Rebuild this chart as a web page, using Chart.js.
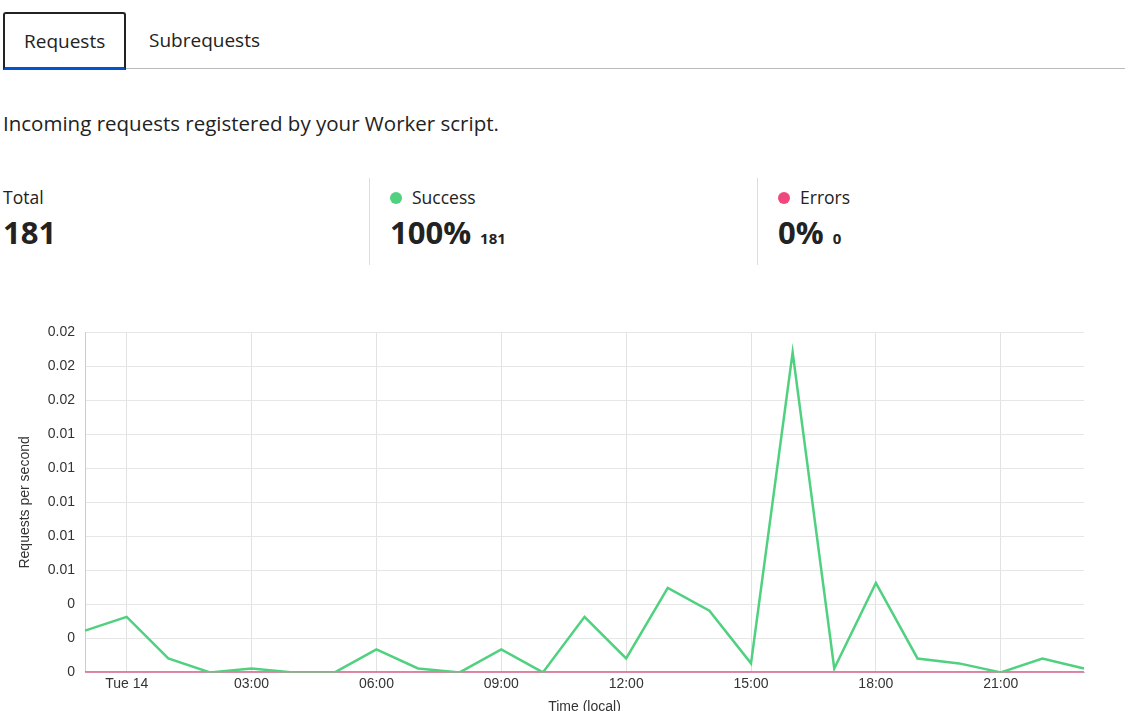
<!DOCTYPE html>
<html>
<head>
<meta charset="utf-8">
<script src="https://cdn.jsdelivr.net/npm/chart.js@4"></script>
<style>
  body { margin: 0; width: 1148px; height: 711px; overflow: hidden; background: #fff; font-family: "Open Sans", "Noto Sans", sans-serif; color: #222; position: relative; }
  .tabs { position: absolute; left: 3px; top: 12px; width: 1122px; height: 56px; border-bottom: 1px solid #bbb; }
  .tab { position: absolute; top: 0; height: 56px; line-height: 56px; font-size: 19px; padding: 0 19px; }
  .tab.active { left: 0; border: 2px solid #222; border-bottom: 3px solid #0055cc; border-radius: 3px 3px 0 0; box-sizing: border-box; height: 58px; line-height: 54px; }
  .desc { position: absolute; left: 3px; top: 109px; font-size: 20.5px; }
  .stat { position: absolute; top: 178px; height: 87px; }
  .stat .lab { font-size: 17.5px; margin-top: 7px; }
  .stat .val { font-size: 31px; font-weight: 700; margin-top: 2px; }
  .stat .val small { font-size: 15px; margin-left: 9px; }
  .dot { display: inline-block; width: 12px; height: 12px; border-radius: 50%; margin-right: 10px; vertical-align: 0; }
  .div { position: absolute; top: 178px; height: 87px; border-left: 1px solid #ddd; }
  #wrap { position: absolute; left: 13px; top: 314px; width: 1074px; height: 406px; }
</style>
</head>
<body>
<div class="tabs">
  <div class="tab active">Requests</div>
  <div class="tab" style="left:127px">Subrequests</div>
</div>
<div class="desc">Incoming requests registered by your Worker script.</div>
<div class="stat" style="left:3px"><div class="lab">Total</div><div class="val">181</div></div>
<div class="div" style="left:369px"></div>
<div class="stat" style="left:390px"><div class="lab"><span class="dot" style="background:#4fd180"></span>Success</div><div class="val">100%<small>181</small></div></div>
<div class="div" style="left:757px"></div>
<div class="stat" style="left:778px"><div class="lab"><span class="dot" style="background:#f0487c"></span>Errors</div><div class="val">0%<small>0</small></div></div>
<div id="wrap"><canvas id="c"></canvas></div>
<script>
const hours = ['23:00', 'Tue 14', '01:00', '02:00', '03:00', '04:00', '05:00', '06:00', '07:00', '08:00', '09:00', '10:00', '11:00',
  '12:00', '13:00', '14:00', '15:00', '16:00', '17:00', '18:00', '19:00', '20:00', '21:00', '22:00', '23:00'];
const success = [0.00246, 0.00327, 0.00082, 0, 0.00023, 0, 0, 0.00135, 0.00023, 0, 0.00135, 0, 0.00327,
  0.00082, 0.00497, 0.00363, 0.00053, 0.01883, 0.00023, 0.00526, 0.00082, 0.00053, 0, 0.00082, 0.00023];
const errors = hours.map(() => 0);

new Chart(document.getElementById('c'), {
  type: 'line',
  data: {
    labels: hours,
    datasets: [{
      label: 'Success', data: success, borderColor: '#4fd180', borderWidth: 2.5, pointRadius: 0, tension: 0,
    }, {
      label: 'Errors', data: errors, borderColor: '#f0487c', borderWidth: 2.5, pointRadius: 0, tension: 0,
    }],
  },
  options: {
    responsive: true,
    maintainAspectRatio: false,
    animation: false,
    plugins: { legend: { display: false }, tooltip: { enabled: false } },
    scales: {
      x: {
        ticks: {
          autoSkip: false, maxRotation: 0, color: '#333', font: { size: 14 },
          callback: (v, i) => (i % 3 === 1 ? hours[i] : ''),
        },
        grid: { color: (ctx) => (ctx.index % 3 === 1 || ctx.index === 0 ? '#e2e2e2' : 'transparent'), drawTicks: false },
        border: { color: '#ccc' },
        title: { display: true, text: 'Time (local)', color: '#333', font: { size: 14 } },
      },
      y: {
        min: 0, max: 0.02,
        ticks: { stepSize: 0.002, color: '#333', font: { size: 14 }, padding: 10, callback: (v) => String(Math.round(v * 100) / 100) },
        grid: { color: '#e6e6e6', drawTicks: false },
        border: { color: '#ccc' },
        title: { display: true, text: 'Requests per second', color: '#333', font: { size: 14 } },
      },
    },
  },
});
</script>
</body>
</html>
